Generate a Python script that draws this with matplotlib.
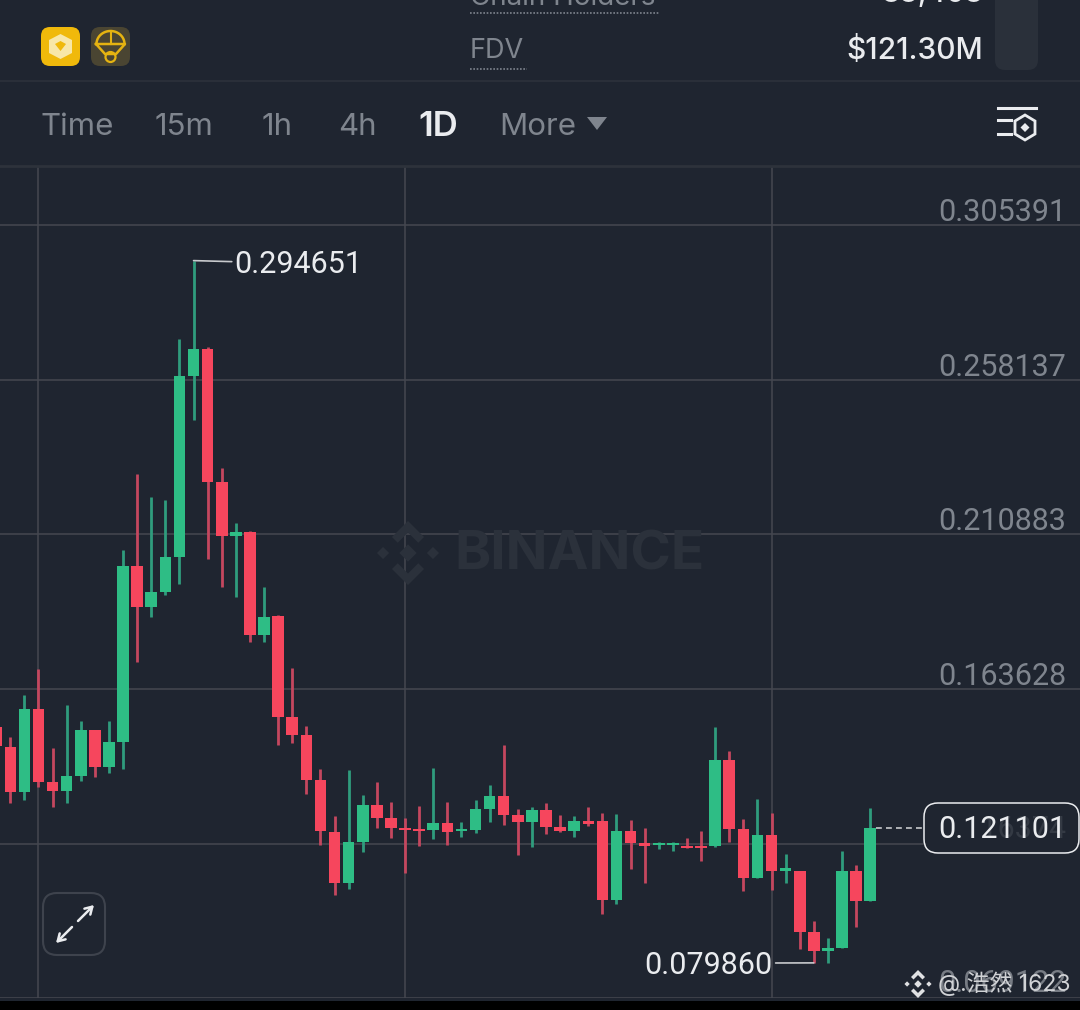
import numpy as np
import matplotlib
matplotlib.use('Agg')
import matplotlib.pyplot as plt
from matplotlib.patches import FancyBboxPatch, Polygon, Circle, Rectangle

# candles, first one is cut by the left edge
INDEX = np.arange(-1, 62)
OPENS = [0.15210, 0.14598, 0.13222, 0.15751, 0.13518, 0.13243, 0.13702, 0.15109, 0.13968, 0.14742,
         0.20125, 0.18880, 0.19329, 0.20409, 0.25936, 0.26761, 0.22694, 0.21051, 0.21174, 0.18014,
         0.18595, 0.15497, 0.14965, 0.13570, 0.11998, 0.10438, 0.11692, 0.12806, 0.12408, 0.12102,
         0.12090, 0.12041, 0.12273, 0.12011, 0.12041, 0.12693, 0.13081, 0.12518, 0.12295, 0.12653,
         0.12133, 0.12029, 0.12326, 0.12326, 0.09900, 0.12029, 0.11653, 0.11582, 0.11591, 0.11561,
         0.11561, 0.11561, 0.14200, 0.12071, 0.10582, 0.11897, 0.10787, 0.10805, 0.08931, 0.08349,
         0.08432, 0.10805, 0.09869]
CLOSES = [0.14619, 0.13222, 0.15751, 0.13518, 0.13243, 0.13702, 0.15109, 0.13968, 0.14742, 0.20125,
          0.18880, 0.19329, 0.20409, 0.25936, 0.26761, 0.22703, 0.21051, 0.21165, 0.18014, 0.18574,
          0.15497, 0.14965, 0.13570, 0.12020, 0.10420, 0.11692, 0.12815, 0.12408, 0.12102, 0.12041,
          0.12029, 0.12273, 0.11998, 0.12071, 0.12693, 0.13081, 0.12518, 0.12295, 0.12653, 0.12133,
          0.12029, 0.12326, 0.12225, 0.09900, 0.12029, 0.11653, 0.11570, 0.11653, 0.11653, 0.11499,
          0.11499, 0.14200, 0.12071, 0.10582, 0.11897, 0.10787, 0.10879, 0.08931, 0.08349, 0.08432,
          0.10805, 0.09869, 0.12110]
HIGHS = [0.15375, 0.14904, 0.16179, 0.16984, 0.14567, 0.15864, 0.15375, 0.15109, 0.15375, 0.20614,
         0.22938, 0.22226, 0.22143, 0.27067, 0.29465, 0.26832, 0.23113, 0.21449, 0.21190, 0.19473,
         0.18635, 0.16996, 0.15240, 0.13907, 0.12469, 0.13885, 0.13121, 0.13518, 0.12897, 0.12417,
         0.12794, 0.13946, 0.12897, 0.12304, 0.12968, 0.13427, 0.14650, 0.12702, 0.12745, 0.12867,
         0.12518, 0.12469, 0.12745, 0.12561, 0.12549, 0.12347, 0.12102, 0.11674, 0.11674, 0.11796,
         0.12011, 0.15191, 0.14457, 0.12377, 0.12998, 0.12570, 0.11325, 0.10805, 0.09257, 0.08738,
         0.11398, 0.10979, 0.12714]
LOWS = [0.14436, 0.12867, 0.12968, 0.13375, 0.12763, 0.12867, 0.13540, 0.13662, 0.13784, 0.13925,
        0.17179, 0.18556, 0.19247, 0.19574, 0.24590, 0.20329, 0.19492, 0.19186, 0.17809, 0.17809,
        0.14650, 0.14702, 0.13151, 0.11591, 0.10071, 0.10255, 0.11368, 0.12121, 0.11815, 0.10744,
        0.11561, 0.11784, 0.11591, 0.11845, 0.11968, 0.12295, 0.12194, 0.11285, 0.11521, 0.11937,
        0.11980, 0.11827, 0.12182, 0.09472, 0.09796, 0.10848, 0.10420, 0.11460, 0.11417, 0.11490,
        0.11093, 0.11539, 0.11674, 0.10184, 0.10582, 0.10206, 0.10420, 0.08401, 0.07986, 0.07986,
        0.08432, 0.09083, 0.09869]

PRICE_TICKS = [0.069122, 0.116374, 0.163628, 0.210883, 0.258137, 0.305391]
TIME_TICKS = [2, 28, 54]
MAX_PRICE, MIN_PRICE, LAST_PRICE = 0.294651, 0.079860, 0.121101
TABS = ['Time', '15m', '1h', '4h', '1D', 'More']

BG = '#1f2530'
GRID = '#454850'
GREY = '#7f858e'
WHITE = '#eaecef'
GREEN, GREEN_WICK = '#2ebd85', '#2f9c7d'
RED, RED_WICK = '#f6465d', '#c4475f'
# roboto digits all have the same width, like the ones in the picture
PRICE_FONT = dict(family='Roboto', fontsize=22)

plt.rcParams['font.family'] = ['Inter', 'Noto Sans CJK SC', 'DejaVu Sans']


# binance diamond: two chevrons, two side diamonds and one in the middle
def draw_logo(axis, cx, cy, r, color, z):
    chevron = np.array([(0, -1), (0.5, -0.5), (0.32, -0.32), (0, -0.64), (-0.32, -0.32), (-0.5, -0.5)])
    for sign in (1, -1):
        axis.add_patch(Polygon(chevron * [1, sign] * r + [cx, cy], fc=color, ec='none', zorder=z))
    diamond = np.array([(-1, 0), (0, -1), (1, 0), (0, 1)])
    for dx, size in [(-0.78, 0.19), (0, 0.27), (0.78, 0.19)]:
        axis.add_patch(Polygon(diamond * size * r + [cx + dx * r, cy], fc=color, ec='none', zorder=z))


fig = plt.figure(figsize=(10.8, 10.1), dpi=100, facecolor=BG)
ax = fig.add_axes([0, 12 / 1010, 1, 831 / 1010], facecolor=BG)
ui = fig.add_axes([0, 0, 1, 1], facecolor='none')
ui.set_xlim(0, 1080)
ui.set_ylim(1010, 0)
ui.axis('off')

# chart
ax.set_xlim(-0.7306, 75.88)
ax.set_ylim(0.069122, 0.32328)
ax.set_yticks(PRICE_TICKS)
ax.set_xticks(TIME_TICKS)
ax.grid(True, color=GRID, lw=1.1)
ax.set_axisbelow(True)
ax.tick_params(length=0, labelleft=False, labelbottom=False)
for s in ax.spines.values():
    s.set_visible(False)

opens, closes = np.array(OPENS), np.array(CLOSES)
up = closes >= opens
ax.vlines(INDEX, LOWS, HIGHS, colors=[GREEN_WICK if u else RED_WICK for u in up], lw=2, zorder=2)
ax.bar(INDEX, np.abs(closes - opens), bottom=np.minimum(opens, closes), width=0.82,
       color=[GREEN if u else RED for u in up], lw=0, zorder=3)

for p in PRICE_TICKS[2:]:
    ax.annotate('%.6f' % p, xy=(1, p), xycoords=('axes fraction', 'data'), xytext=(-14, -2),
                textcoords='offset pixels', ha='right', va='bottom', color=GREY, **PRICE_FONT)

# max and min labels
hi = int(INDEX[np.argmax(HIGHS)])
lo = int(INDEX[np.argmin(LOWS)])
ax.annotate('%.6f' % MAX_PRICE, xy=(hi, MAX_PRICE), xytext=(41, -4), textcoords='offset pixels',
            ha='left', va='center', color=WHITE, zorder=5, **PRICE_FONT,
            arrowprops=dict(arrowstyle='-', color='#c8cacd', lw=1.2, shrinkA=0, shrinkB=0, relpos=(0, 0.6)))
ax.annotate('%.6f' % MIN_PRICE, xy=(lo, MIN_PRICE), xytext=(-41, -3), textcoords='offset pixels',
            ha='right', va='center', color=WHITE, zorder=5, **PRICE_FONT,
            arrowprops=dict(arrowstyle='-', color='#c8cacd', lw=1.2, shrinkA=0, shrinkB=0, relpos=(1, 0.6)))

# last price
ax.plot([INDEX[-1] + 0.42, 64.75], [LAST_PRICE, LAST_PRICE], color='#c8cacd', lw=1.2, ls=(0, (3.5, 2.5)), zorder=2)
ui.add_patch(FancyBboxPatch((935, 814), 133, 28, boxstyle='round,pad=11,rounding_size=14',
                            fc=BG, ec=WHITE, lw=1.1, zorder=3))
ui.text(1066, 829, '%.6f' % PRICE_TICKS[1], ha='right', va='center', color='#343a44', zorder=4, **PRICE_FONT)
ui.text(1066, 829, '%.6f' % LAST_PRICE, ha='right', va='center', color=WHITE, zorder=5, **PRICE_FONT)

# watermark in the middle
ui.text(454, 555, 'BINANCE', ha='left', va='center', color='#2b313b', fontsize=39.5, fontweight='bold', zorder=1)
draw_logo(ui, 408, 553, 32, '#2b313b', 1)

# bottom strip with the reposter's mark over the lowest tick
ui.text(1066, 983, '%.6f' % PRICE_TICKS[0], ha='right', va='center', color='#777c84', zorder=4, **PRICE_FONT)
ui.text(938, 984, '@.浩然 1623', ha='left', va='center', color='#d0d2d5', fontsize=16.5, zorder=5)
draw_logo(ui, 918, 984, 14, '#e0e1e3', 5)
ui.add_patch(Rectangle((0, 1001), 1080, 9, fc='black', ec='none', zorder=6))

# expand button
ui.add_patch(FancyBboxPatch((52, 902), 44, 44, boxstyle='round,pad=9,rounding_size=14', fc=BG, ec='#3e434d', lw=1.5, zorder=3))
ui.annotate('', xy=(94, 905), xytext=(78, 921), arrowprops=dict(arrowstyle='->,head_length=0.5,head_width=0.3', color=WHITE, lw=1.8, shrinkA=0, shrinkB=0), zorder=4)
ui.annotate('', xy=(56, 943), xytext=(72, 927), arrowprops=dict(arrowstyle='->,head_length=0.5,head_width=0.3', color=WHITE, lw=1.8, shrinkA=0, shrinkB=0), zorder=4)

# header
ui.text(470, 5, 'Chain Holders', ha='left', va='baseline', color=GREY, fontsize=20)
ui.text(983, 2, '83,403', ha='right', va='baseline', color=WHITE, fontsize=21, fontweight='medium')
ui.plot([470, 659], [12.5, 12.5], color=GREY, lw=1.2, ls=(0, (1, 1)))
ui.text(470, 51, 'FDV', ha='left', va='center', color=GREY, fontsize=19.5)
ui.plot([470, 527], [68.5, 68.5], color=GREY, lw=1.2, ls=(0, (1, 1)))
ui.text(983, 51, '$121.30M', ha='right', va='center', color=WHITE, fontsize=21.5, fontweight='medium')
ui.add_patch(FancyBboxPatch((1005, -20), 23, 80, boxstyle='round,pad=10,rounding_size=10', fc='#2a303a', ec='none'))
ui.plot([0, 1080], [81, 81], color='#2d323b', lw=1.2)
ui.plot([0, 1080], [166, 166], color='#2d323b', lw=2)

ui.add_patch(FancyBboxPatch((47, 33), 27, 27, boxstyle='round,pad=6,rounding_size=9', fc='#f0b90b', ec='none'))
ui.add_patch(Polygon([(60.5, 34), (72, 40), (72, 53), (60.5, 59), (49, 53), (49, 40)], fc='#f8e7a8', ec='none'))
ui.add_patch(Polygon([(60.5, 41), (66, 44), (60.5, 51), (55, 44)], fc='#f0b90b', ec='none'))
ui.add_patch(FancyBboxPatch((97, 33), 27, 27, boxstyle='round,pad=6,rounding_size=9', fc='#4a4532', ec='none'))
theta = np.linspace(np.pi, 2 * np.pi, 30)
ui.plot(110.5 + 14 * np.cos(theta), 44 + 13 * np.sin(theta), color='#e5b311', lw=1.8)
ui.plot([96, 125, 116, 105, 96], [44, 44, 54, 54, 44], color='#e5b311', lw=1.8)
ui.plot([110.5, 110.5], [31, 44], color='#e5b311', lw=1.5)
ui.add_patch(Circle((110.5, 57), 5, fc='#4a4532', ec='#e5b311', lw=1.6))

# interval tabs
for label, x in zip(TABS, [41, 155, 262, 338, 418, 499]):
    active = label == '1D'
    ui.text(x, 127, label, ha='left', va='center', color=WHITE if active else GREY, fontsize=25 if active else 22.5,
            fontweight='semibold' if active else 'normal')
ui.add_patch(Polygon([(587, 117), (607, 117), (597, 130)], fc=GREY, ec='none'))

# settings icon
ui.plot([998, 1036], [107.5, 107.5], color=WHITE, lw=2.2)
ui.plot([998, 1011], [120, 120], color=WHITE, lw=2.2)
ui.plot([998, 1011], [134, 134], color=WHITE, lw=2.2)
ui.add_patch(Polygon([(1025, 115), (1035, 121), (1035, 134), (1025, 140), (1015, 134), (1015, 121)], fc='none', ec=WHITE, lw=2))
ui.add_patch(Polygon([(1025, 123), (1029.5, 127.5), (1025, 132), (1020.5, 127.5)], fc=WHITE, ec='none'))

fig.savefig('out.png', dpi=100, facecolor=BG)
